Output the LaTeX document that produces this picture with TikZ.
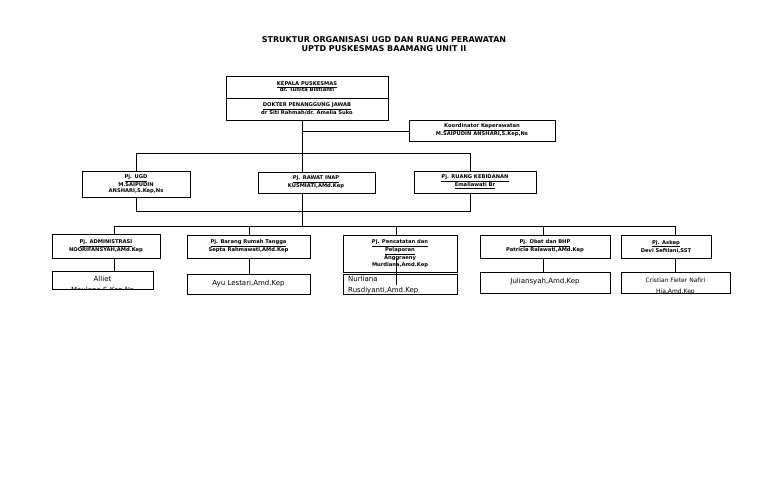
\documentclass[tikz,border=0pt]{standalone}
\usepackage{fontspec}
\setmainfont{DejaVu Sans}
\begin{document}
\begin{tikzpicture}[x=1pt,y=-1pt,
  bx/.style={draw,line width=0.8pt},
  t/.style={font=\fontsize{5.2}{6.2}\selectfont\bfseries,align=center,inner sep=0pt},
  s/.style={font=\fontsize{7}{11}\selectfont,align=center,inner sep=0pt},
  ln/.style={line width=0.8pt}]
\useasboundingbox[fill=white] (0,0) rectangle (768,486);
\node[font=\fontsize{8}{9.5}\selectfont\bfseries,align=center] (title) at (384,44) {STRUKTUR ORGANISASI UGD DAN RUANG PERAWATAN\\UPTD PUSKESMAS BAAMANG UNIT II};
% top boxes
\draw[bx] (226,76) rectangle (388,98); \draw[bx] (226,98) rectangle (388,120);
\node[t] (kep) at (307,87) {\underline{KEPALA PUSKESMAS}\\dr. Tunita Bistianti};
\node[t] (dok) at (307,109) {\underline{DOKTER PENANGGUNG JAWAB}\\dr Siti Rahmah/dr. Amelia Suko};
\coordinate (kb) at (302,120);
\draw[bx] (409,120) rectangle (555,141);
\node[t] (kor) at (482,130.5) {\underline{Koordinator Keperawatan}\\M.SAIPUDIN ANSHARI,S.Kep,Ns};
\coordinate (korl) at (409,131);
% level 2
\draw[bx] (82,171) rectangle (190,197);
\node[t] (ugd) at (136,184) {\underline{Pj. UGD}\\M.SAIPUDIN\\ANSHARI,S.Kep,Ns};
\draw[bx] (258,172) rectangle (375,193);
\node[t] (ri) at (316,182.5) {\underline{Pj. RAWAT INAP}\\KUSMIATI,AMd.Kep};
\draw[bx] (414,171) rectangle (536,193);
\node[t] (keb) at (475,182) {\underline{Pj. RUANG KEBIDANAN}\\\underline{Emaliawati Br}};
\draw[ln] (kb) -- (302,172);
\draw[ln] (302,131) -- (korl);
\draw[ln] (136,171) -- (136,153) -- (470,153) -- (470,171);
\draw[ln] (136,197) -- (136,211) -- (470,211) -- (470,193);
\draw[ln] (302,193) -- (302,226);
\draw[ln] (114,234) -- (114,226) -- (675,226) -- (675,235);
\foreach \x in {249,396,543} \draw[ln] (\x,226) -- (\x,235);
% level 3
\draw[bx] (52,234) rectangle (160,258);
\node[t] (adm) at (106,246) {\underline{Pj. ADMINISTRASI}\\NOORIFANSYAH,AMd.Kep};
\draw[bx] (187,235) rectangle (310,258);
\node[t] (bar) at (248.5,246.5) {\underline{Pj. Barang Rumah Tangga}\\Septa Rahmawati,AMd.Kep};
\draw[bx] (343,235) rectangle (457,272);
\node[t] (pen) at (400,253.5) {\underline{Pj. Pencatatan dan}\\\underline{Pelaporan}\\Anggraeny\\Murdiana,Amd.Kep};
\draw[bx] (480,235) rectangle (610,258);
\node[t] (obt) at (545,246.5) {\underline{Pj. Obat dan BHP}\\Patricia Ralawati,AMd.Kep};
\draw[bx] (621,235) rectangle (711,258);
\node[t] (ask) at (666,246.5) {\underline{Pj. Askep}\\Devi Seftiani,SST};
% staff
\draw[ln] (114,258) -- (114,271);
\draw[ln] (249,258) -- (249,274);
\draw[ln] (396,258) -- (396,285);
\draw[ln] (543,258) -- (543,272);
\draw[ln] (675,258) -- (675,272);
\draw[bx] (52,271) rectangle (153,289);
\begin{scope}\clip (52,271) rectangle (153,289);
\node[s] (all) at (102.5,285) {Alliet\\Maulana,S.Kep,Ns};\end{scope}
\draw[bx] (187,274) rectangle (310,294);
\node[s] (ayu) at (248.5,284) {Ayu Lestari,Amd.Kep};
\draw[bx] (343,274) rectangle (457,294);
\begin{scope}\clip (343,274) rectangle (457,294);
\node[s,align=left,anchor=north west] (nur) at (348,276) {Nurliana\\Rusdiyanti,Amd.Kep};\end{scope}
\draw[bx] (480,272) rectangle (610,293);
\node[s] (jul) at (545,282) {Juliansyah,Amd.Kep};
\draw[bx] (621,272) rectangle (730,293);
\begin{scope}\clip (621,272) rectangle (730,293);
\node[t,font=\fontsize{6}{11}\selectfont] (cri) at (675.5,286) {Cristian Fieter Nafiri\\Hia,Amd.Kep};\end{scope}
\end{tikzpicture}
\end{document}
